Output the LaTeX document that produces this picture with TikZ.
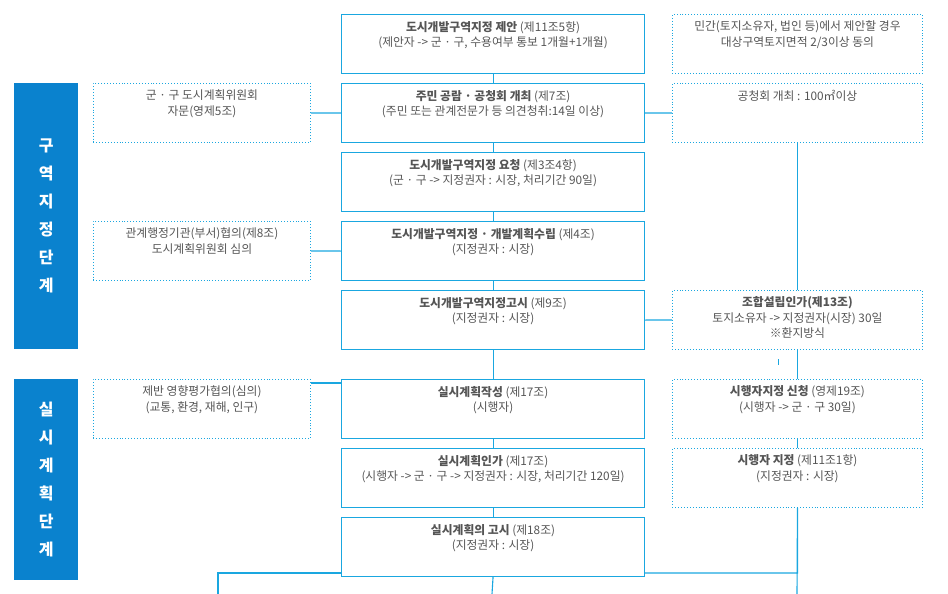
\documentclass[tikz,border=0pt]{standalone}
\usepackage{fontspec}
\setmainfont{Noto Sans CJK KR}
\usetikzlibrary{positioning}
\definecolor{lineblue}{HTML}{1AA7E0}
\definecolor{barblue}{HTML}{0A82CE}
\definecolor{txtgray}{HTML}{555555}
\newcommand{\boxtxt}[3]{\parbox[t][52pt][t]{#1}{\centering\vspace{3pt}#2\\ #3}}

\begin{document}
\begin{tikzpicture}[x=1pt,y=-1pt,
    font=\fontsize{11.8}{15.5}\selectfont,
    mainbox/.style={draw=lineblue,line width=1.1pt,minimum width=303pt,minimum height=59pt,
        inner sep=0pt,anchor=north west,text=txtgray},
    sidebox/.style={draw=lineblue,line width=0.9pt,dotted,minimum width=250pt,minimum height=59pt,
        inner sep=0pt,anchor=north west,text=txtgray},
    leftbox/.style={sidebox,minimum width=217pt},
    stagebar/.style={fill=barblue,minimum width=64pt,inner sep=0pt,anchor=north west,
        text=white,font=\fontsize{16}{28}\selectfont\bfseries},
    link/.style={draw=lineblue,line width=1.1pt}]
\useasboundingbox (0,0) rectangle (948,594);

% stage bars
\node[stagebar,minimum height=266pt] (bar1) at (14,83) {\parbox{20pt}{\centering 구\\역\\지\\정\\단\\계}};
\node[stagebar,minimum height=201pt] (bar2) at (14,379) {\parbox{20pt}{\centering 실\\시\\계\\획\\단\\계}};

% main column
\node[mainbox] (m1) at (341,14) {\boxtxt{300pt}{\textbf{도시개발구역지정 제안} (제11조5항)}{(제안자 -> 군 · 구, 수용여부 통보 1개월+1개월)}};
\node[mainbox] (m2) at (341,83) {\boxtxt{300pt}{\textbf{주민 공람 · 공청회 개최} (제7조)}{(주민 또는 관계전문가 등 의견청취:14일 이상)}};
\node[mainbox] (m3) at (341,152) {\boxtxt{300pt}{\textbf{도시개발구역지정 요청} (제3조4항)}{(군 · 구 -> 지정권자 : 시장, 처리기간 90일)}};
\node[mainbox] (m4) at (341,221) {\boxtxt{300pt}{\textbf{도시개발구역지정 · 개발계획수립} (제4조)}{(지정권자 : 시장)}};
\node[mainbox] (m5) at (341,290) {\boxtxt{300pt}{\textbf{도시개발구역지정고시} (제9조)}{(지정권자 : 시장)}};
\node[mainbox] (m6) at (341,379) {\boxtxt{300pt}{\textbf{실시계획작성} (제17조)}{(시행자)}};
\node[mainbox] (m7) at (341,448) {\boxtxt{300pt}{\textbf{실시계획인가} (제17조)}{(시행자 -> 군 · 구 -> 지정권자 : 시장, 처리기간 120일)}};
\node[mainbox] (m8) at (341,517) {\boxtxt{300pt}{\textbf{실시계획의 고시} (제18조)}{(지정권자 : 시장)}};

% right column
\node[sidebox] (r1) at (672,14) {\boxtxt{248pt}{민간(토지소유자, 법인 등)에서 제안할 경우}{대상구역토지면적 2/3이상 동의}};
\node[sidebox] (r2) at (672,83) {\boxtxt{248pt}{공청회 개최 : 100㎡이상}{}};
\node[sidebox] (r3) at (672,290) {\boxtxt{248pt}{\textbf{조합설립인가(제13조)}}{토지소유자 -> 지정권자(시장) 30일\\※환지방식}};
\node[sidebox] (r4) at (672,379) {\boxtxt{248pt}{\textbf{시행자지정 신청} (영제19조)}{(시행자 -> 군 · 구 30일)}};
\node[sidebox] (r5) at (672,448) {\boxtxt{248pt}{\textbf{시행자 지정} (제11조1항)}{(지정권자 : 시장)}};

% left column
\node[leftbox] (l1) at (93,83) {\boxtxt{215pt}{군 · 구 도시계획위원회}{자문(영제5조)}};
\node[leftbox] (l2) at (93,221) {\boxtxt{215pt}{관계행정기관(부서)협의(제8조)}{도시계획위원회 심의}};
\node[leftbox] (l3) at (93,379) {\boxtxt{215pt}{제반 영향평가협의(심의)}{(교통, 환경, 재해, 인구)}};

% connectors
\foreach \a/\b in {m1/m2,m2/m3,m3/m4,m4/m5,m5/m6,m6/m7,m7/m8}
  \draw[link] (\a.south) -- (\b.north);
\foreach \a/\b in {r2/r3,r3/r4,r4/r5}
  \draw[link] (\a.south) -- (\b.north);
\draw[link] (l1.east) -- (m2.west);
\draw[link] (m2.east) -- (r2.west);
\draw[link] (l2.east) -- (m4.west);
\draw[link] (m5.east) -- (r3.west);
\coordinate (l3y) at (0,383);
\coordinate (m8y) at (0,573);
\draw[link] (l3.east |- l3y) -- (m6.west |- l3y);
\draw[draw=lineblue,line width=0.6pt] (778,359) -- (778,365);
\coordinate (outL) at (218,594);
\coordinate (outM) at (492,594);
\coordinate (outR) at (797,594);
\draw[link] (m8.west |- m8y) -| (outL);
\draw[link] (m8.south) -- (outM);
\draw[link] (m8.east |- m8y) -| (r5.south) -- (outR);
\end{tikzpicture}
\end{document}
